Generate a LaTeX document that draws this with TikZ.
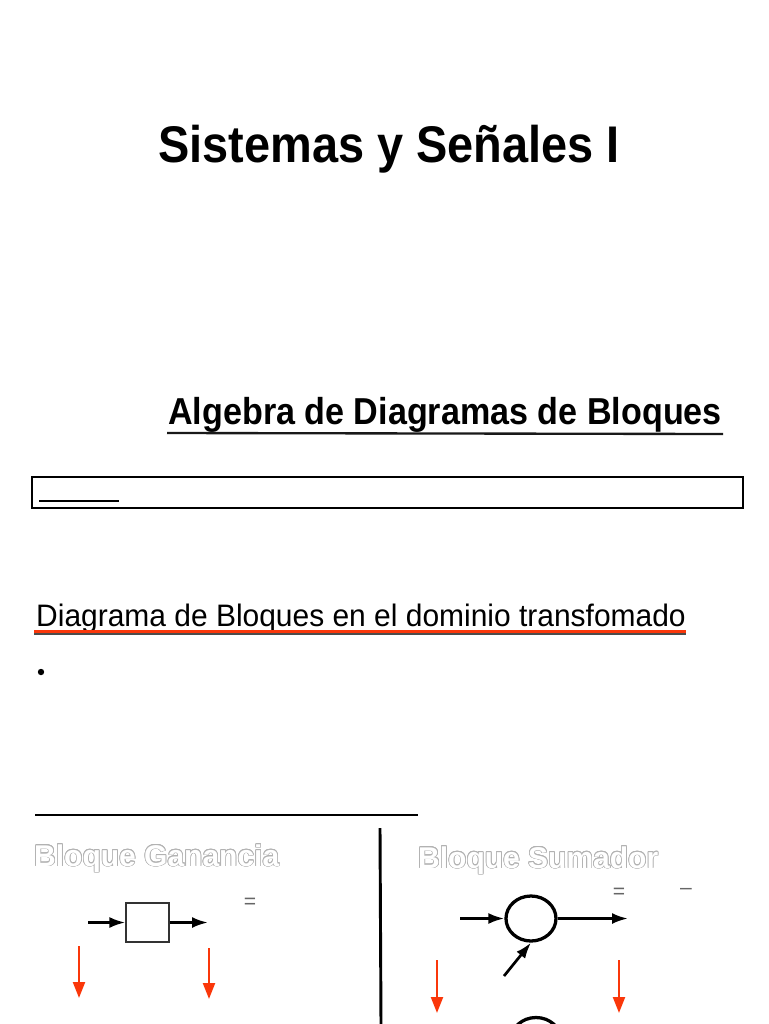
\documentclass[tikz,border=0pt]{standalone}
\usepackage{fontspec}
\setmainfont{Liberation Sans}
\newfontfamily\narrowfont[FakeStretch=0.91]{Liberation Sans}
\newfontfamily\slimfont[FakeStretch=0.965]{Liberation Sans}
\usepackage{contour}
\usetikzlibrary{arrows,arrows.meta,positioning,shapes.geometric}
\contourlength{0.6pt}

\begin{document}
\begin{tikzpicture}[x=0.3mm,y=-0.3mm,
		title/.style={font=\narrowfont\fontsize{44}{50}\selectfont\bfseries, inner sep=0pt},
		subtitle/.style={font=\narrowfont\fontsize{32}{38}\selectfont\bfseries, inner sep=0pt},
		section/.style={font=\slimfont\fontsize{26.5}{32}\selectfont, inner sep=0pt},
		ghost/.style={font=\fontsize{25.6}{30}\selectfont\bfseries, inner sep=0pt},
		small/.style={font=\fontsize{18}{20}\selectfont, text=black!60, inner sep=0pt},
		blockbox/.style={draw=black!80, line width=1pt, minimum width=12.9mm, minimum height=11.7mm, inner sep=0pt},
		sumnode/.style={ellipse, draw=black, line width=2.8pt, minimum width=15mm, minimum height=13.5mm, inner sep=0pt},
		sig/.style={-{Latex[length=4.8mm,width=3.3mm]}, line width=2.3pt},
		down/.style={-{Triangle[length=4.8mm,width=3.6mm]}, line width=1.8pt, draw=redline, fill=redline},
		rule/.style={line width=2pt, black!90}]
	\definecolor{redline}{RGB}{250,55,10}
	\useasboundingbox (0,0) rectangle (768,1024);
	\clip (0,0) rectangle (768,1024);

	% titles
	\node[title, anchor=base west] (titulo) at (158,162) {Sistemas y Señales I};
	\node[subtitle, anchor=base west] (algebra) at (168,424) {Algebra de Diagramas de Bloques};
	\draw[rule] (167,433) -- (723,434);

	% empty frame
	\draw[line width=2pt] (32,477) rectangle (743,508);
	\draw[line width=2pt] (39,501) -- (119,501);

	\node[section, anchor=base west] (dominio) at (36,626) {Diagrama de Bloques en el dominio transfomado};
	\draw[line width=1pt, black!70] (34,634) -- (686,634);
	\draw[line width=2pt, redline] (34,631.5) -- (686,631.5);
	\fill (41,672) circle (3.2);

	% separators
	\draw[line width=2.5pt] (35,815) -- (418,815);
	\draw[line width=2.5pt] (380,828) -- (381,1024);

	% gain block
	\node[ghost, anchor=base west] (ganancia) at (34,866) {\contour{black!30}{\textcolor{white}{Bloque Ganancia}}};
	\node[blockbox] (gain) at (147.5,922.5) {};
	\coordinate (gin) at (88,922.5);
	\coordinate (gout) at (208,922.5);
	\draw[sig] (gin) -- (gain.west);
	\draw[sig] (gain.east) -- (gout);
	\node[small] (eqg) at (250,903) {=};
	\coordinate (ga) at (79,946);
	\coordinate (gb) at (79,998);
	\coordinate (gc) at (209,948);
	\coordinate (gd) at (209,999);
	\draw[down] (ga) -- (gb);
	\draw[down] (gc) -- (gd);

	% summer block
	\node[ghost, anchor=base west] (sumador) at (418,868) {\contour{black!30}{\textcolor{white}{Bloque Sumador}}};
	\node[sumnode] (sum) at (531,918.5) {};
	\coordinate (sin) at (460,918.5);
	\coordinate (sout) at (628,918.5);
	\coordinate (sdown) at (504,976);
	\draw[sig] (sin) -- (sum.west);
	\draw[sig] (sum.east) -- (sout);
	\draw[sig] (sdown) -- (sum.south);
	\node[small] (eqs) at (619,893) {=};
	\node[small] (minus) at (686,891) {--};
	\coordinate (sa) at (437,960);
	\coordinate (sb) at (437,1013);
	\coordinate (sc) at (619,960);
	\coordinate (sd) at (619,1013);
	\draw[down] (sa) -- (sb);
	\draw[down] (sc) -- (sd);
	\node[sumnode] (sum2) at (536,1040) {};
\end{tikzpicture}
\end{document}
